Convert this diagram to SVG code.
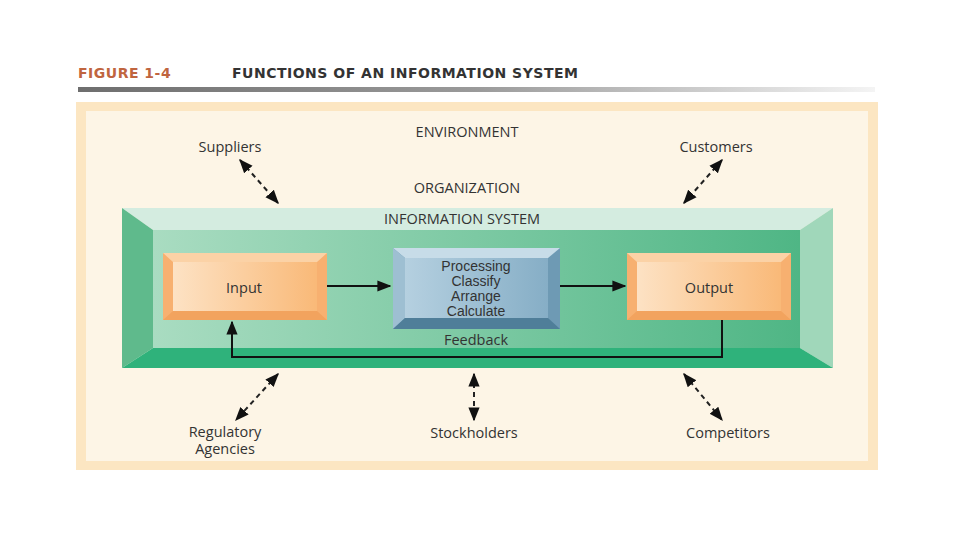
<svg xmlns="http://www.w3.org/2000/svg" width="960" height="540" viewBox="0 0 960 540">
<defs>
<linearGradient id="bar" x1="0" x2="1"><stop offset="0" stop-color="#6e6e6e"/><stop offset="0.5" stop-color="#9a9a9a"/><stop offset="1" stop-color="#f4f4f4"/></linearGradient>
<linearGradient id="face" x1="0" x2="1"><stop offset="0" stop-color="#a9dcc1"/><stop offset="1" stop-color="#4fb685"/></linearGradient>
<linearGradient id="org" x1="0" x2="1"><stop offset="0" stop-color="#fde2c4"/><stop offset="1" stop-color="#f9b978"/></linearGradient>
<linearGradient id="blu" x1="0" x2="1"><stop offset="0" stop-color="#b5d0e0"/><stop offset="1" stop-color="#86aec6"/></linearGradient>
<marker id="ah" viewBox="0 0 10 10" refX="9" refY="5" markerWidth="7" markerHeight="7" orient="auto-start-reverse"><path d="M0,1 L10,5 L0,9 Z" fill="#111"/></marker>
</defs>
<style>
.t{font-family:"Open Sans","Liberation Sans",sans-serif;font-size:14.5px;fill:#333;text-anchor:middle}
.p{font-family:"Liberation Sans",sans-serif;font-size:14px;fill:#333;text-anchor:middle}
.b{font-family:"DejaVu Sans",sans-serif;font-size:14px;font-weight:bold;letter-spacing:0.5px}
.d{stroke:#222;stroke-width:2;stroke-dasharray:5,4;fill:none}
.s{stroke:#111;stroke-width:2;fill:none}
</style>
<rect width="960" height="540" fill="#fff"/>
<text x="78" y="78" class="b" fill="#c0653f">FIGURE 1-4</text>
<text x="232" y="78" class="b" fill="#333">FUNCTIONS OF AN INFORMATION SYSTEM</text>
<rect x="78" y="87" width="797" height="5" fill="url(#bar)"/>
<rect x="76" y="102" width="802" height="368" fill="#fce6c2"/>
<rect x="86" y="111" width="782" height="350" fill="#fdf5e6"/>
<g id="infosys">
<polygon points="122,208 833,208 800,230 153,230" fill="#d4ece0"/>
<polygon points="122,208 153,230 153,348 122,368" fill="#5fba8c"/>
<polygon points="833,208 800,230 800,348 833,368" fill="#a0d7ba"/>
<polygon points="122,368 153,348 800,348 833,368" fill="#2fb27b"/>
<rect x="153" y="230" width="647" height="118" fill="url(#face)"/>
<text x="462" y="224" class="t">INFORMATION SYSTEM</text>
<text x="476" y="345" class="t" fill="#2a4a3a">Feedback</text>
</g>
<g id="input">
<rect x="163" y="253" width="164" height="67" fill="#f7b070"/>
<polygon points="163,253 327,253 317,262 173,262" fill="#fbd2a6"/>
<polygon points="163,320 327,320 317,311 173,311" fill="#f2a35e"/>
<rect x="173" y="262" width="144" height="49" fill="url(#org)"/>
<text x="244" y="293" class="t">Input</text>
</g>
<g id="processing">
<rect x="393" y="248" width="167" height="81" fill="#6e9ab4"/>
<polygon points="393,248 560,248 548,258 405,258" fill="#c7dce8"/>
<polygon points="393,248 405,258 405,318 393,329" fill="#9ebfd2"/>
<polygon points="393,329 560,329 548,318 405,318" fill="#4f7e99"/>
<rect x="405" y="258" width="143" height="60" fill="url(#blu)"/>
<text x="476" y="271" class="p">Processing</text>
<text x="476" y="286" class="p">Classify</text>
<text x="476" y="301" class="p">Arrange</text>
<text x="476" y="316" class="p">Calculate</text>
</g>
<g id="output">
<rect x="627" y="253" width="164" height="67" fill="#f7b070"/>
<polygon points="627,253 791,253 781,262 637,262" fill="#fbd2a6"/>
<polygon points="627,320 791,320 781,311 637,311" fill="#f2a35e"/>
<rect x="637" y="262" width="144" height="49" fill="url(#org)"/>
<text x="709" y="293" class="t">Output</text>
</g>
<g id="labels">
<text x="467" y="137" class="t">ENVIRONMENT</text>
<text x="467" y="193" class="t">ORGANIZATION</text>
<text x="230" y="152" class="t">Suppliers</text>
<text x="716" y="152" class="t">Customers</text>
<text x="225" y="437" class="t">Regulatory</text>
<text x="225" y="454" class="t">Agencies</text>
<text x="474" y="438" class="t">Stockholders</text>
<text x="728" y="438" class="t">Competitors</text>
</g>
<g id="connectors">
<line x1="327" y1="286" x2="390" y2="286" class="s" marker-end="url(#ah)"/>
<line x1="560" y1="286" x2="625" y2="286" class="s" marker-end="url(#ah)"/>
<polyline points="722,320 722,357 232,357 232,322" class="s" marker-end="url(#ah)"/>
<line x1="240" y1="160" x2="278" y2="203" class="d" marker-start="url(#ah)" marker-end="url(#ah)"/>
<line x1="722" y1="160" x2="684" y2="203" class="d" marker-start="url(#ah)" marker-end="url(#ah)"/>
<line x1="278" y1="374" x2="236" y2="420" class="d" marker-start="url(#ah)" marker-end="url(#ah)"/>
<line x1="474" y1="374" x2="474" y2="420" class="d" marker-start="url(#ah)" marker-end="url(#ah)"/>
<line x1="684" y1="374" x2="722" y2="420" class="d" marker-start="url(#ah)" marker-end="url(#ah)"/>
</g>
</svg>
